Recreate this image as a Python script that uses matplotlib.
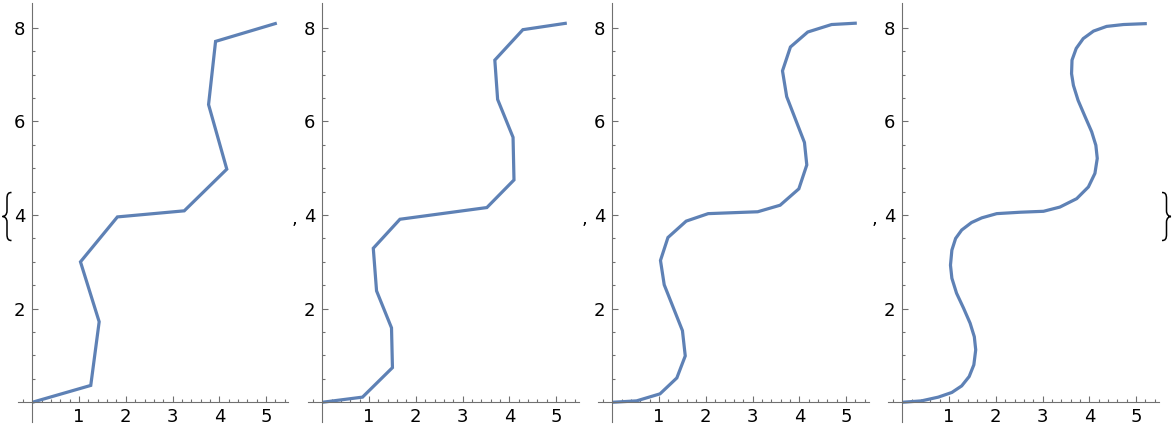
import matplotlib
matplotlib.use('Agg')
import matplotlib.pyplot as plt
from matplotlib.path import Path
from matplotlib.patches import PathPatch
from matplotlib.transforms import IdentityTransform

# ====== data ======
x1 = [0, 1.25, 1.43, 1.03, 1.82, 3.25, 4.16, 3.77, 3.92, 5.23]
y1 = [0, 0.36, 1.72, 3.00, 3.96, 4.09, 4.98, 6.36, 7.71, 8.10]

x2 = [0, 0.86, 1.50, 1.48, 1.16, 1.09, 1.66, 3.52, 4.10, 4.08, 3.75, 3.69, 4.29, 5.23]
y2 = [0, 0.11, 0.74, 1.59, 2.38, 3.29, 3.91, 4.16, 4.75, 5.66, 6.47, 7.31, 7.96, 8.10]

x3 = [0, 0.52, 1.02, 1.38, 1.56, 1.50, 1.11, 1.03, 1.19, 1.58, 2.05,
      3.11, 3.59, 3.99, 4.16, 4.11, 3.73, 3.64, 3.81, 4.18, 4.69, 5.23]
y3 = [0, 0.03, 0.18, 0.52, 0.99, 1.53, 2.51, 3.03, 3.52, 3.87, 4.03,
      4.07, 4.21, 4.56, 5.07, 5.55, 6.53, 7.08, 7.59, 7.91, 8.07, 8.10]

x4 = [0, 0.41, 0.77, 1.06, 1.27, 1.43, 1.53, 1.57, 1.54, 1.45, 1.31, 1.16,
      1.06, 1.03, 1.06, 1.14, 1.27, 1.48, 1.70, 2.02, 2.52, 3.02, 3.37, 3.73,
      3.98, 4.12, 4.17, 4.14, 4.05, 3.91, 3.76, 3.66, 3.62, 3.63, 3.72, 3.87,
      4.09, 4.37, 4.73, 5.23]
y4 = [0, 0.03, 0.11, 0.21, 0.35, 0.55, 0.80, 1.12, 1.40, 1.69, 2.01, 2.33,
      2.65, 2.93, 3.25, 3.50, 3.68, 3.84, 3.94, 4.03, 4.06, 4.08, 4.17, 4.35,
      4.60, 4.89, 5.21, 5.49, 5.78, 6.10, 6.45, 6.77, 7.02, 7.31, 7.56, 7.77,
      7.93, 8.03, 8.07, 8.09]

curves = [(x1, y1), (x2, y2), (x3, y3), (x4, y4)]
x_major = [1, 2, 3, 4, 5]
y_major = [2, 4, 6, 8]
# =======================================

W, H = 1174, 434
line_col = '#5e81b5'
axis_col = '#707070'
fsize = 13

fig = plt.figure(figsize=(W / 100, H / 100), dpi=100)

xlim = (-0.30, 5.48)
ylim = (-0.43, 8.53)
for i, (xs, ys) in enumerate(curves):
    left_px = 18.3 + 290 * i
    ax = fig.add_axes([left_px / W, 1 - 422.4 / H, 270.2 / W, 419.4 / H])
    ax.plot(xs, ys, color=line_col, lw=2.3, solid_joinstyle='miter',
            solid_capstyle='butt', clip_on=False)
    ax.set_xlim(*xlim)
    ax.set_ylim(*ylim)
    ax.patch.set_visible(False)
    for s in ('top', 'right'):
        ax.spines[s].set_visible(False)
    ax.spines['left'].set_position(('data', 0))
    ax.spines['bottom'].set_position(('data', 0))
    for s in ('left', 'bottom'):
        ax.spines[s].set_color(axis_col)
        ax.spines[s].set_linewidth(0.8)
    ax.set_xticks(x_major)
    ax.set_xticklabels([str(v) for v in x_major])
    ax.set_yticks(y_major)
    ax.set_yticklabels([str(v) for v in y_major])
    ax.set_xticks([k * 0.2 for k in range(-1, 28) if k % 5 != 0], minor=True)
    ax.set_yticks([k * 0.5 + 0.5 for k in range(16) if (k + 1) % 4 != 0], minor=True)
    ax.tick_params(which='both', direction='in', color=axis_col, width=0.8,
                   labelsize=fsize, labelcolor='black')
    ax.tick_params(which='major', length=4.5)
    ax.tick_params(which='minor', length=2.5)
    ax.tick_params(axis='x', which='major', pad=4)
    ax.tick_params(axis='y', which='major', pad=5)

# commas between the panels
for cx in (294, 584, 874):
    fig.text(cx / W, 1 - 224 / H, ',', fontsize=fsize, ha='center', va='baseline')


# thin stretched braces around the list (pixel coords, y down)
def brace(tip_x, end_x, top, bot):
    w = end_x - tip_x
    xm = tip_x + 0.5 * w
    mid = (top + bot) / 2
    h = bot - top
    pts = [(end_x, top),
           (xm + 0.15 * w, top), (xm, top + 0.03 * h), (xm, top + 0.13 * h),
           (xm, mid - 0.12 * h),
           (xm, mid - 0.03 * h), (tip_x + 0.2 * w, mid), (tip_x, mid),
           (tip_x + 0.2 * w, mid), (xm, mid + 0.03 * h), (xm, mid + 0.12 * h),
           (xm, bot - 0.13 * h),
           (xm, bot - 0.03 * h), (xm + 0.15 * w, bot), (end_x, bot)]
    codes = [Path.MOVETO, Path.CURVE4, Path.CURVE4, Path.CURVE4, Path.LINETO,
             Path.CURVE4, Path.CURVE4, Path.CURVE4,
             Path.CURVE4, Path.CURVE4, Path.CURVE4, Path.LINETO,
             Path.CURVE4, Path.CURVE4, Path.CURVE4]
    pts = [(px, H - py) for px, py in pts]
    fig.patches.append(PathPatch(Path(pts, codes), transform=IdentityTransform(),
                                 facecolor='none', edgecolor='black', lw=1.1,
                                 figure=fig))


brace(2.5, 11.5, 192.5, 240.5)
brace(1171, 1162, 192.5, 240.5)

fig.savefig('out.png', dpi=100)
